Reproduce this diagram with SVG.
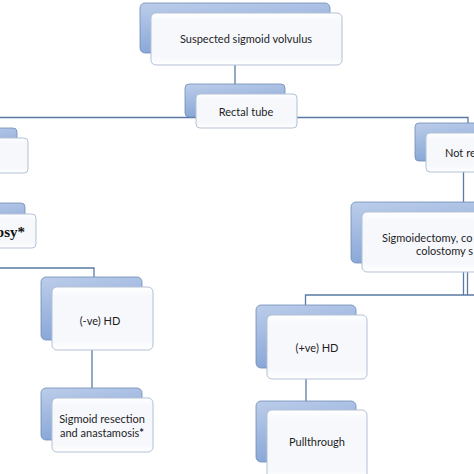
<svg xmlns="http://www.w3.org/2000/svg" width="474" height="474" viewBox="0 0 474 474">
<defs>
<linearGradient id="bk" x1="0" y1="0" x2="0.3" y2="1">
<stop offset="0" stop-color="#bccdea"/>
<stop offset="1" stop-color="#86a5d6"/>
</linearGradient>
<linearGradient id="fr" x1="0" y1="0" x2="0" y2="1">
<stop offset="0" stop-color="#ffffff"/>
<stop offset="0.15" stop-color="#f6f8fc"/>
<stop offset="0.85" stop-color="#f6f8fc"/>
<stop offset="1" stop-color="#ffffff"/>
</linearGradient>
</defs>
<style>
.bk{fill:url(#bk);stroke:#6f8bb6;stroke-width:0.8}
.fr{fill:url(#fr);stroke:#b3c1d6;stroke-width:1}
.t{font-family:Lato,"Liberation Sans",sans-serif;font-size:11px;fill:#1e1e1e}
.m{text-anchor:middle}
.b{font-family:"Liberation Serif",serif;font-weight:bold;font-size:15px;fill:#111}
.c{fill:none;stroke:#5a7aa3;stroke-width:1.3}
</style>
<rect width="474" height="474" fill="#ffffff"/>
<g id="connectors">
<path class="c" d="M235 65V84"/>
<path class="c" d="M0 117.5H468V123"/>
<path class="c" d="M0 268H94V277"/>
<path class="c" d="M92 350V388"/>
<path class="c" d="M463.5 172V202"/>
<path class="c" d="M463.5 272V295M467.5 272V295"/>
<path class="c" d="M474 295H305.5V305"/>
<path class="c" d="M306 379V401"/>
</g>
<g id="n-suspected">
<rect class="bk" x="140" y="3" width="190" height="50" rx="5"/>
<rect class="fr" x="151" y="13" width="191" height="52" rx="5"/>
<text class="t m" x="246" y="43">Suspected sigmoid volvulus</text>
</g>
<g id="n-rectal">
<rect class="bk" x="185" y="84" width="100" height="33" rx="4"/>
<rect class="fr" x="196" y="94" width="101" height="34" rx="4"/>
<text class="t m" x="246" y="116">Rectal tube</text>
</g>
<g id="n-left1">
<rect class="bk" x="-60" y="128" width="77" height="36" rx="4"/>
<rect class="fr" x="-50" y="138" width="78" height="35" rx="4"/>
</g>
<g id="n-left2">
<rect class="bk" x="-60" y="203" width="85" height="36" rx="4"/>
<rect class="fr" x="-50" y="214" width="86" height="34" rx="4"/>
<text class="b" x="25" y="237" text-anchor="end">psy*</text>
</g>
<g id="n-negHD">
<rect class="bk" x="41" y="277" width="101" height="63" rx="5"/>
<rect class="fr" x="52" y="287" width="101" height="63" rx="5"/>
<text class="t m" x="100" y="325">(-ve) HD</text>
</g>
<g id="n-resection">
<rect class="bk" x="41" y="388" width="101" height="52" rx="5"/>
<rect class="fr" x="52" y="398" width="101" height="54" rx="5"/>
<text class="t m" x="102" y="423">Sigmoid resection</text>
<text class="t m" x="102" y="437">and anastamosis<tspan font-weight="bold">*</tspan></text>
</g>
<g id="n-notres">
<rect class="bk" x="415" y="123" width="80" height="38" rx="4"/>
<rect class="fr" x="426" y="133" width="80" height="39" rx="4"/>
<text class="t" x="445" y="157">Not re</text>
</g>
<g id="n-sigmoidectomy">
<rect class="bk" x="351" y="202" width="150" height="61" rx="5"/>
<rect class="fr" x="362" y="212" width="150" height="60" rx="5"/>
<text class="t" x="382" y="242">Sigmoidectomy, co</text>
<text class="t" x="416" y="255">colostomy s</text>
</g>
<g id="n-posHD">
<rect class="bk" x="256" y="305" width="100" height="63" rx="5"/>
<rect class="fr" x="267" y="315" width="100" height="64" rx="5"/>
<text class="t m" x="317" y="352">(+ve) HD</text>
</g>
<g id="n-pullthrough">
<rect class="bk" x="256" y="401" width="100" height="61" rx="5"/>
<rect class="fr" x="267" y="410" width="100" height="70" rx="5"/>
<text class="t m" x="317" y="446">Pullthrough</text>
</g>
</svg>
